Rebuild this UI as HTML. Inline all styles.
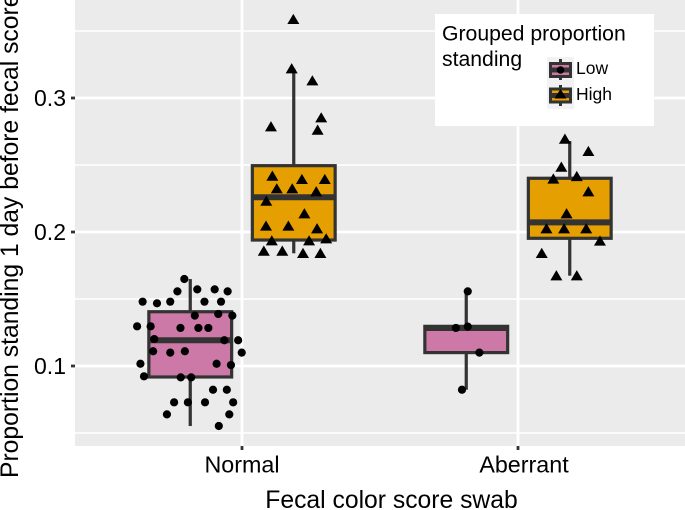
<!DOCTYPE html>
<html>
<head>
<meta charset="utf-8">
<style>
html,body{margin:0;padding:0;background:#fff;}
svg{display:block;font-family:"Liberation Sans",Arial,sans-serif;}
</style>
</head>
<body>
<svg id="chart" width="685" height="510" viewBox="0 0 685 510" xmlns="http://www.w3.org/2000/svg">
  <rect x="75" y="0" width="610" height="446" fill="#ebebeb"/>
  <g id="grid"></g>
  <g id="boxes"></g>
  <g id="points"></g>
  <g id="axes"></g>
  <text x="391.5" y="508" font-size="24.7" text-anchor="middle" fill="#000">Fecal color score swab</text>
  <text transform="translate(18,478) rotate(-90)" x="0" y="0" font-size="24.7" fill="#000">Proportion standing 1 day before fecal score</text>
  <g>
    <rect x="435" y="14" width="219" height="112" fill="#fff"/>
    <text x="442" y="40.5" font-size="21.2" fill="#000">Grouped proportion</text>
    <text x="442" y="66" font-size="21.2" fill="#000">standing</text>
    <rect x="547" y="57" width="27" height="52" fill="#f2f2f2"/>
    <g>
      <line x1="560.5" x2="560.5" y1="59" y2="80" stroke="#333" stroke-width="3"/>
      <rect x="550.5" y="63.5" width="20" height="13" fill="#CC79A7" stroke="#333" stroke-width="3"/>
      <line x1="550.5" x2="570.5" y1="70" y2="70" stroke="#333" stroke-width="5"/>
      <circle cx="560.5" cy="70" r="3.8" fill="#000"/>
      <text x="576" y="74" font-size="17.5" fill="#000">Low</text>
    </g>
    <g>
      <line x1="560.5" x2="560.5" y1="85" y2="106" stroke="#333" stroke-width="3"/>
      <rect x="550.5" y="89" width="20" height="13" fill="#E69F00" stroke="#333" stroke-width="3"/>
      <line x1="550.5" x2="570.5" y1="95.5" y2="95.5" stroke="#333" stroke-width="5"/>
      <polygon points="560.5,89 566.5,98.5 554.5,98.5" fill="#000"/>
      <text x="576" y="100" font-size="17.5" fill="#000">High</text>
    </g>
  </g>
</svg>
<script>
// Chart data
const categories = ["Normal", "Aberrant"];
const yTickValues = [0.1, 0.2, 0.3];
const yMinorValues = [0.05, 0.15, 0.25, 0.35];
const groups = ["Low", "High"];
const groupColors = ["#CC79A7", "#E69F00"];
// Box statistics: [category index, group index]
const boxCategory = [0, 0, 1, 1];
const boxGroup = [0, 1, 0, 1];
const whiskerLow = [0.0552, 0.1841, 0.0823, 0.1674];
const q1 = [0.0918, 0.194, 0.110, 0.1953];
const median = [0.1192, 0.2259, 0.1284, 0.2072];
const q3 = [0.1405, 0.2495, 0.1296, 0.2401];
const whiskerHigh = [0.1649, 0.3219, 0.1557, 0.2679];
// Observations (x in category units, 1 = Normal, 2 = Aberrant, jittered)
const normalLowX = [.791,.766,.838,.901,.948,.640,.692,.740,.864,.924,.829,.914,.965,.620,.669,.777,.842,.878,.682,.936,.986,.678,.740,.793,.999,.632,.908,.960,.645,.778,.816,.895,.945,.754,.804,.866,.968,.728,.954,.916];
const normalLowY = [.1649,.1557,.1572,.1572,.1557,.1480,.1468,.1480,.1480,.1480,.1376,.1388,.1376,.1296,.1296,.1284,.1284,.1284,.1201,.1192,.1192,.1110,.1100,.1110,.1100,.1017,.1017,.1007,.0923,.0915,.0915,.0823,.0823,.0729,.0729,.0729,.0729,.0639,.0639,.0552];
const normalHighX = [1.186,1.180,1.255,1.287,1.105,1.274,1.110,1.217,1.300,1.126,1.182,1.269,1.088,1.226,1.087,1.168,1.272,1.108,1.243,1.305,1.079,1.146,1.221,1.284];
const normalHighY = [.3587,.3219,.3129,.2853,.2786,.2761,.2418,.2393,.2393,.2323,.2323,.2301,.2231,.2137,.2045,.2045,.2025,.1935,.1935,.1950,.1858,.1858,.1841,.1841];
const aberrantLowX = [1.818,1.775,1.818,1.860,1.797];
const aberrantLowY = [.1557,.1284,.1294,.1100,.0823];
const aberrantHighX = [2.170,2.255,2.157,2.128,2.213,2.255,2.176,2.103,2.167,2.247,2.297,2.086,2.139,2.213];
const aberrantHighY = [.2694,.2602,.2485,.2396,.2415,.2301,.2137,.2025,.2025,.2025,.1933,.1841,.1674,.1674];

const NS = "http://www.w3.org/2000/svg";
function xScale(v) { return 242 + (v - 1) * 276; }
function yScale(v) { return 366 - (v - 0.1) * 1340; }
function mk(tag, parent, attrs) {
  const el = document.createElementNS(NS, tag);
  for (const k in attrs) el.setAttribute(k, attrs[k]);
  parent.appendChild(el);
  return el;
}
const gridG = document.getElementById("grid");
const boxesG = document.getElementById("boxes");
const pointsG = document.getElementById("points");
const axesG = document.getElementById("axes");

yMinorValues.forEach(function (v) {
  const l = mk("line", gridG, {x1: 75, x2: 685, y1: yScale(v), y2: yScale(v), stroke: "#fff", "stroke-width": 1.4});
  
  
});
yTickValues.forEach(function (v) {
  const l = mk("line", gridG, {x1: 75, x2: 685, y1: yScale(v), y2: yScale(v), stroke: "#fff", "stroke-width": 2.8});
  
  
  const t = mk("line", axesG, {x1: 71, x2: 75, y1: yScale(v), y2: yScale(v), stroke: "#333", "stroke-width": 2.8});
  
  
  const lab = mk("text", axesG, {x: 66, y: yScale(v) + 8.2, "font-size": 23, "text-anchor": "end", fill: "#000"});
  
  
  lab.textContent = v.toFixed(1);
});
categories.forEach(function (c, i) {
  const x = xScale(i + 1);
  const l = mk("line", gridG, {x1: x, x2: x, y1: 0, y2: 446, stroke: "#fff", "stroke-width": 2.8});
  
  
  const t = mk("line", axesG, {x1: x, x2: x, y1: 446, y2: 450, stroke: "#333", "stroke-width": 2.8});
  
  
  const lab = mk("text", axesG, {x: x + (i === 1 ? 6 : 0), y: 472.5, "font-size": 23.3, "text-anchor": "middle", fill: "#000"});
  
  
  lab.textContent = c;
});

const dodge = 0.1875;
const boxW = 0.3;
boxCategory.forEach(function (c, i) {
  const g = boxGroup[i];
  const cx = c + 1 + (g === 0 ? -dodge : dodge);
  const x = xScale(cx);
  const left = xScale(cx - boxW / 2);
  const right = xScale(cx + boxW / 2);
  const grp = mk("g", boxesG, {});
  
  
  mk("line", grp, {x1: x, x2: x, y1: yScale(whiskerHigh[i]), y2: yScale(q3[i]), stroke: "#333", "stroke-width": 3.2});
  mk("line", grp, {x1: x, x2: x, y1: yScale(q1[i]), y2: yScale(whiskerLow[i]), stroke: "#333", "stroke-width": 3.2});
  mk("rect", grp, {x: left, y: yScale(q3[i]), width: right - left, height: yScale(q1[i]) - yScale(q3[i]), fill: groupColors[g], stroke: "#333", "stroke-width": 3.2});
  mk("line", grp, {x1: left, x2: right, y1: yScale(median[i]), y2: yScale(median[i]), stroke: "#333", "stroke-width": 6});
});

function drawCircles(xs, ys) {
  xs.forEach(function (v, i) {
    const c = mk("circle", pointsG, {cx: xScale(v), cy: yScale(ys[i]), r: 4.1, fill: "#000"});
    
    
  });
}
function drawTriangles(xs, ys) {
  xs.forEach(function (v, i) {
    const x = xScale(v), y = yScale(ys[i]);
    const p = mk("polygon", pointsG, {points: x + "," + (y - 5.5) + " " + (x + 6) + "," + (y + 4.7) + " " + (x - 6) + "," + (y + 4.7), fill: "#000"});
    
    
  });
}
drawCircles(normalLowX, normalLowY);
drawTriangles(normalHighX, normalHighY);
drawCircles(aberrantLowX, aberrantLowY);
drawTriangles(aberrantHighX, aberrantHighY);
</script>
</body>
</html>
